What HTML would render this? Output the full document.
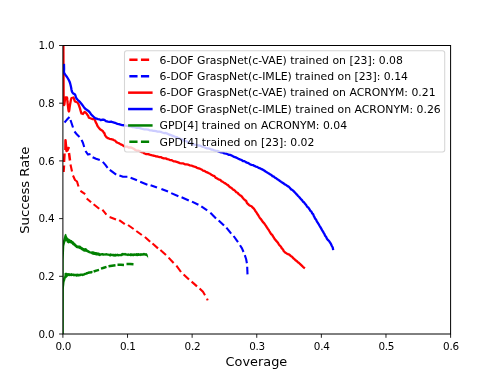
<!DOCTYPE html>
<html><head><meta charset="utf-8"><title>Success Rate vs Coverage</title>
<style>html,body{margin:0;padding:0;background:#fff;width:500px;height:375px;overflow:hidden}</style></head>
<body>
<svg width="500" height="375" viewBox="0 0 500 375" style="display:block;position:absolute;left:0;top:0">
<rect width="500" height="375" fill="#fff"/>
<defs><clipPath id="ax"><rect x="62.90" y="45.50" width="387.70" height="288.50"/></clipPath></defs>
<g clip-path="url(#ax)" fill="none" stroke-width="2.50" stroke-linejoin="round">
<path d="M70.50 164.50 L72.00 171.50" stroke="#f00" stroke-width="2.1"/>
<path d="M73.00 175.50 L75.00 180.00 L77.00 181.50 L78.50 186.50" stroke="#f00" stroke-width="2.1"/>
<path d="M80.40 190.80 L85.20 194.20" stroke="#f00" stroke-width="2.1"/>
<path d="M86.70 198.50 L91.10 202.20" stroke="#f00" stroke-width="2.1"/>
<path d="M93.60 204.20 L99.20 208.70" stroke="#f00" stroke-width="2.1"/>
<path d="M102.40 209.80 L104.00 211.60 L106.40 214.60" stroke="#f00" stroke-width="2.1"/>
<path d="M109.60 217.00 L116.00 219.40" stroke="#f00" stroke-width="2.1"/>
<path d="M119.20 220.20 L124.80 224.20" stroke="#f00" stroke-width="2.1"/>
<path d="M128.00 225.00 L133.60 229.00" stroke="#f00" stroke-width="2.1"/>
<path d="M136.30 231.00 L141.80 235.00" stroke="#f00" stroke-width="2.1"/>
<path d="M144.90 237.00 L150.20 241.70" stroke="#f00" stroke-width="2.1"/>
<path d="M152.50 243.50 L158.00 248.40" stroke="#f00" stroke-width="2.1"/>
<path d="M160.40 250.00 L166.00 255.00" stroke="#f00" stroke-width="2.1"/>
<path d="M168.60 257.60 L173.60 263.00" stroke="#f00" stroke-width="2.1"/>
<path d="M176.40 265.60 L181.00 272.00" stroke="#f00" stroke-width="2.1"/>
<path d="M183.60 274.40 L189.00 279.60" stroke="#f00" stroke-width="2.1"/>
<path d="M191.60 281.60 L197.00 286.40" stroke="#f00" stroke-width="2.1"/>
<path d="M199.60 288.40 L203.00 291.80 L205.00 295.20" stroke="#f00" stroke-width="2.1"/>
<path d="M207.00 298.60 L207.70 300.40" stroke="#f00" stroke-width="2.1"/>
<path d="M64.50 122.50 L67.00 119.60 L69.50 117.00" stroke="#00f" stroke-width="2.1"/>
<path d="M70.50 120.00 L73.00 127.50" stroke="#00f" stroke-width="2.1"/>
<path d="M74.50 131.50 L77.00 134.60 L79.50 137.00" stroke="#00f" stroke-width="2.1"/>
<path d="M81.60 139.80 L83.00 143.00 L84.20 147.00" stroke="#00f" stroke-width="2.1"/>
<path d="M85.50 151.00 L88.00 154.60 L90.50 154.00" stroke="#00f" stroke-width="2.1"/>
<path d="M92.60 157.20 L96.00 158.80 L99.80 160.10" stroke="#00f" stroke-width="2.1"/>
<path d="M102.80 161.90 L105.20 164.60 L107.60 167.80" stroke="#00f" stroke-width="2.1"/>
<path d="M109.80 169.80 L116.20 174.60" stroke="#00f" stroke-width="2.1"/>
<path d="M119.40 175.60 L123.00 176.80 L127.40 176.80" stroke="#00f" stroke-width="2.1"/>
<path d="M130.60 177.80 L137.00 180.20" stroke="#00f" stroke-width="2.1"/>
<path d="M140.20 181.80 L147.40 184.70" stroke="#00f" stroke-width="2.1"/>
<path d="M150.60 185.20 L157.00 187.60" stroke="#00f" stroke-width="2.1"/>
<path d="M161.40 188.90 L168.00 191.50" stroke="#00f" stroke-width="2.1"/>
<path d="M171.20 193.10 L178.40 196.30" stroke="#00f" stroke-width="2.1"/>
<path d="M181.60 197.30 L188.80 200.50" stroke="#00f" stroke-width="2.1"/>
<path d="M192.00 201.60 L198.40 204.80" stroke="#00f" stroke-width="2.1"/>
<path d="M201.30 206.40 L207.20 210.40" stroke="#00f" stroke-width="2.1"/>
<path d="M210.40 212.80 L216.00 218.40" stroke="#00f" stroke-width="2.1"/>
<path d="M218.70 220.40 L224.00 225.60" stroke="#00f" stroke-width="2.1"/>
<path d="M226.40 227.60 L231.20 233.60" stroke="#00f" stroke-width="2.1"/>
<path d="M233.60 236.00 L238.00 242.20" stroke="#00f" stroke-width="2.1"/>
<path d="M240.00 245.30 L242.00 248.40 L243.50 252.00" stroke="#00f" stroke-width="2.1"/>
<path d="M244.80 255.20 L246.10 259.00 L246.90 263.20" stroke="#00f" stroke-width="2.1"/>
<path d="M247.20 266.70 L247.50 274.40" stroke="#00f" stroke-width="2.1"/>
<path d="M63.40 45.00 L63.40 45.91 L63.41 46.96 L63.41 48.13 L63.42 49.41 L63.42 50.80 L63.43 52.28 L63.43 53.84 L63.44 55.48 L63.44 57.17 L63.45 58.93 L63.46 60.72 L63.46 62.55 L63.47 64.40 L63.48 66.27 L63.49 68.14 L63.50 70.00 L63.51 71.59 L63.52 73.24 L63.52 74.94 L63.53 76.66 L63.54 78.42 L63.55 80.19 L63.55 81.96 L63.56 83.73 L63.57 85.48 L63.58 87.21 L63.59 88.90 L63.60 90.55 L63.61 92.15 L63.62 93.68 L63.63 95.13 L63.65 96.50 L63.66 97.77 L63.68 98.94 L63.70 100.00 L63.84 104.06 L64.01 105.02 L64.20 105.00 L64.39 104.34 L64.58 102.68 L64.80 101.00 L65.09 98.98 L65.50 97.50 L67.00 97.50 L67.22 98.47 L67.31 99.89 L67.50 102.00 L67.68 103.54 L67.88 105.46 L68.10 107.49 L68.33 109.36 L68.57 110.78 L68.80 111.50 L69.11 111.05 L69.39 109.36 L69.67 107.12 L70.00 105.00 L70.35 103.07 L70.70 101.09 L71.07 99.32 L71.50 98.00 L73.50 97.50 L74.01 98.62 L74.43 100.20 L75.00 101.50 L76.22 101.97 L77.50 102.50 L78.22 103.67 L78.84 105.17 L79.50 107.00 L80.03 108.67 L80.53 110.52 L81.02 112.23 L81.50 113.50 L83.00 114.00 L83.68 112.90 L84.50 112.00 L85.72 112.63 L86.90 114.03 L87.63 115.23 L88.31 116.08 L88.82 117.76 L90.37 118.25 L92.19 118.98 L93.45 119.03 L94.55 119.23 L95.29 121.05 L95.89 122.62 L96.57 123.67 L97.35 125.74 L97.92 126.64 L99.04 128.05 L100.08 129.29 L101.58 130.19 L102.96 131.23 L103.76 132.59 L104.55 133.38 L104.86 134.78 L105.85 136.39 L106.55 137.35 L107.94 138.15 L109.54 138.76 L111.12 139.10 L112.87 139.53 L114.01 140.25 L115.05 140.51 L116.34 142.10 L117.75 142.75 L119.17 143.35 L120.71 144.43 L122.11 144.81 L124.13 146.27 L125.39 146.67 L127.07 146.62 L128.61 147.51 L130.45 147.41 L132.04 147.95 L133.74 148.81 L135.38 149.96 L136.77 150.65 L138.27 150.63 L140.04 151.24 L141.55 152.13 L143.27 152.47 L144.60 153.51 L146.27 154.06 L148.15 154.11 L149.65 154.67 L151.29 155.12 L152.79 155.51 L154.51 155.79 L155.97 156.37 L157.56 156.48 L159.41 157.05 L160.79 157.07 L162.31 157.92 L163.82 158.39 L165.71 158.41 L167.28 159.14 L168.84 159.47 L170.42 160.20 L171.82 160.17 L173.69 161.35 L175.03 161.46 L176.65 161.85 L178.15 162.34 L179.95 163.07 L181.54 163.32 L183.34 163.41 L184.89 164.30 L186.46 164.28 L188.35 164.71 L189.88 165.35 L191.57 165.56 L192.86 166.19 L194.44 166.74 L195.82 167.02 L197.01 167.91 L198.65 168.33 L199.90 168.71 L201.51 169.43 L203.04 170.58 L204.19 170.83 L205.80 171.80 L207.19 172.30 L208.36 173.02 L210.11 173.83 L211.44 174.77 L212.90 175.58 L214.47 176.19 L215.50 177.62 L217.22 178.50 L218.48 179.38 L220.16 179.79 L221.45 181.15 L222.79 181.84 L224.00 182.65 L225.30 183.37 L226.71 184.45 L228.00 185.13 L229.15 186.43 L230.16 187.30 L231.91 188.32 L232.54 189.17 L233.88 189.85 L235.19 190.92 L236.29 192.20 L237.59 192.76 L238.69 194.20 L239.99 195.21 L241.36 196.08 L242.72 197.81 L243.76 199.01 L245.16 200.23 L246.18 201.02 L246.87 202.88 L247.83 203.83 L248.95 204.92 L250.16 205.71 L251.53 206.24 L252.53 207.38 L253.86 208.67 L255.08 210.40 L255.60 211.35 L256.52 212.50 L257.36 214.08 L258.28 215.21 L258.98 216.54 L259.86 218.04 L261.13 219.35 L261.88 220.51 L262.95 222.08 L264.07 223.15 L265.07 224.65 L265.97 225.90 L266.90 227.46 L267.73 228.73 L268.57 229.67 L269.43 231.28 L270.08 232.36 L271.07 233.99 L272.17 234.90 L273.20 236.68 L273.95 237.77 L274.86 239.31 L276.03 240.62 L277.07 241.75 L278.09 243.05 L278.87 244.48 L279.77 245.52 L280.97 246.79 L281.65 248.14 L282.98 249.49 L283.82 251.26 L285.12 252.42 L286.62 253.41 L288.04 254.13 L289.32 254.61 L290.68 255.93 L292.08 256.70 L293.33 258.35 L294.30 258.94 L295.70 260.39 L296.75 260.94 L297.88 262.28 L299.12 263.05 L299.95 263.92 L301.78 265.58 L302.96 266.80 L304.00 267.60" stroke="#f00" stroke-width="2.3" stroke-linecap="square"/>
<path d="M64.00 65.00 L64.03 66.04 L64.06 67.48 L64.10 69.00 L64.03 70.36 L63.95 71.64 L64.20 73.00 L64.95 74.34 L65.97 75.60 L67.00 77.00 L67.92 78.49 L68.76 79.95 L69.50 81.50 L70.05 83.01 L70.43 84.43 L70.80 86.00 L71.16 87.77 L71.46 89.51 L71.80 91.00 L72.33 92.35 L73.00 93.20 L75.00 94.50 L75.51 95.70 L75.93 97.15 L76.50 98.50 L77.65 99.78 L79.00 101.00 L79.98 102.09 L80.96 103.23 L82.00 104.50 L82.98 105.86 L83.90 107.20 L85.00 108.50 L86.32 109.56 L87.68 110.44 L89.00 111.50 L90.10 112.84 L91.02 114.22 L92.14 115.45 L93.57 116.75 L95.06 118.15 L96.55 118.61 L98.00 119.09 L99.65 119.39 L100.88 120.15 L102.41 119.73 L103.48 119.63 L104.69 120.03 L105.91 121.05 L107.94 121.54 L109.47 121.78 L111.14 121.62 L112.55 122.23 L114.08 122.62 L115.92 123.21 L117.43 123.81 L118.88 124.14 L120.55 124.71 L122.18 125.16 L123.99 125.26 L125.65 125.73 L127.33 125.86 L128.76 126.24 L130.45 126.33 L132.07 126.98 L133.65 126.85 L135.15 127.43 L136.82 127.86 L138.44 127.73 L139.91 128.06 L141.57 128.65 L143.34 129.09 L144.70 129.38 L146.28 129.43 L148.07 129.55 L149.54 130.30 L151.17 130.28 L152.79 130.73 L154.19 130.80 L155.98 131.19 L157.57 131.55 L159.37 131.71 L160.78 131.84 L162.27 132.49 L163.88 133.03 L165.78 133.02 L167.36 133.66 L168.85 134.39 L170.28 134.89 L172.05 135.58 L173.56 136.19 L175.27 136.77 L176.62 137.09 L178.20 137.94 L180.07 138.91 L181.41 139.20 L182.81 140.08 L184.07 140.85 L185.62 141.01 L187.14 141.62 L188.43 142.56 L190.03 143.03 L191.54 143.49 L192.87 143.78 L194.18 144.51 L195.76 144.80 L197.14 145.08 L198.43 145.49 L200.11 145.73 L201.50 146.30 L203.01 146.79 L204.26 147.24 L205.70 147.87 L207.03 148.33 L208.39 148.41 L209.88 148.77 L211.58 149.59 L212.83 149.69 L214.29 150.44 L215.78 150.86 L217.10 150.91 L218.47 151.37 L220.01 152.04 L221.41 152.29 L223.01 152.55 L224.40 153.45 L225.82 153.53 L227.09 154.06 L228.54 154.76 L230.06 154.88 L231.61 155.57 L232.96 156.31 L234.16 156.94 L235.73 157.40 L237.08 158.03 L238.41 158.73 L239.86 159.40 L241.54 160.05 L242.95 161.01 L244.43 161.16 L245.77 162.09 L246.94 162.58 L248.42 163.07 L250.01 164.26 L251.45 164.88 L252.99 165.04 L254.42 165.89 L255.81 166.54 L257.14 166.91 L258.59 167.92 L260.11 168.36 L261.58 169.17 L262.81 169.68 L264.19 170.55 L265.58 171.53 L267.13 172.39 L268.48 173.34 L269.94 174.18 L271.39 175.00 L272.48 176.16 L273.86 176.69 L274.96 177.65 L276.23 178.34 L277.28 179.21 L278.77 180.07 L279.99 181.02 L281.24 181.90 L282.60 182.74 L283.75 183.51 L285.04 184.53 L286.23 185.05 L287.56 186.11 L288.85 186.78 L289.97 187.94 L291.17 189.40 L292.41 189.97 L293.59 191.10 L294.70 192.31 L295.61 193.27 L296.89 194.60 L298.09 195.98 L299.19 197.01 L300.01 198.09 L301.18 199.40 L302.02 200.16 L303.10 201.79 L304.04 202.33 L304.86 203.54 L305.90 204.72 L307.01 206.51 L308.37 207.66 L309.46 209.23 L310.43 210.86 L311.43 211.66 L312.13 213.27 L313.13 214.15 L313.94 216.23 L314.45 217.09 L315.05 218.43 L316.13 219.80 L316.82 221.42 L317.68 222.71 L318.60 224.07 L319.37 225.50 L320.39 227.16 L321.12 228.43 L322.07 230.06 L323.01 231.59 L323.72 232.85 L324.47 234.04 L325.12 235.75 L326.05 236.76 L326.94 238.69 L328.14 240.16 L329.27 241.30 L330.27 242.82 L330.95 243.92 L331.87 246.00 L332.74 247.55 L333.00 249.00" stroke="#00f" stroke-width="2.3" stroke-linecap="square"/>
<path d="M61.35 334.00 L61.35 333.19 L61.35 332.38 L61.35 331.57 L61.35 330.76 L61.36 329.95 L61.36 329.14 L61.36 328.33 L61.36 327.52 L61.36 326.71 L61.36 325.90 L61.36 325.10 L61.36 324.29 L61.37 323.48 L61.37 322.67 L61.37 321.86 L61.37 321.05 L61.37 320.24 L61.37 319.43 L61.37 318.62 L61.37 317.81 L61.38 317.00 L61.38 316.19 L61.38 315.38 L61.38 314.57 L61.38 313.76 L61.38 312.95 L61.38 312.14 L61.38 311.33 L61.38 310.52 L61.39 309.71 L61.39 308.90 L61.39 308.10 L61.39 307.29 L61.39 306.48 L61.39 305.67 L61.39 304.86 L61.39 304.05 L61.40 303.24 L61.40 302.43 L61.40 301.62 L61.40 300.81 L61.40 300.00 L61.40 299.20 L61.40 298.40 L61.41 297.60 L61.41 296.80 L61.41 296.00 L61.41 295.20 L61.41 294.40 L61.42 293.60 L61.42 292.80 L61.42 292.00 L61.42 291.20 L61.42 290.40 L61.43 289.60 L61.43 288.80 L61.43 288.00 L61.43 287.20 L61.43 286.40 L61.44 285.60 L61.44 284.80 L61.44 284.00 L61.44 283.20 L61.44 282.40 L61.45 281.60 L61.45 280.80 L61.45 280.00 L61.45 279.20 L61.45 278.40 L61.46 277.60 L61.46 276.80 L61.46 276.00 L61.46 275.20 L61.46 274.40 L61.47 273.60 L61.47 272.80 L61.47 272.00 L61.47 271.20 L61.47 270.40 L61.48 269.60 L61.48 268.80 L61.48 268.00 L61.48 267.20 L61.48 266.40 L61.49 265.60 L61.49 264.80 L61.49 264.00 L61.49 263.20 L61.49 262.40 L61.50 261.60 L61.50 260.80 L61.50 260.00 L61.52 259.18 L61.55 258.35 L61.57 257.53 L61.59 256.71 L61.62 255.88 L61.64 255.06 L61.66 254.24 L61.69 253.41 L61.71 252.59 L61.74 251.76 L61.76 250.94 L61.78 250.12 L61.81 249.29 L61.83 248.47 L61.85 247.65 L61.88 246.82 L61.90 246.00 L62.08 245.17 L62.26 244.33 L62.45 243.50 L62.63 242.67 L62.81 241.83 L62.99 241.00 L64.60 234.65 L64.95 234.54 L65.30 233.98 L66.00 233.84 L66.33 234.47 L66.67 235.66 L67.00 236.60 L68.00 238.16 L68.75 238.53 L69.50 239.08 L71.00 239.93 L71.75 239.92 L72.50 240.93 L73.25 241.36 L74.00 241.99 L74.75 242.89 L75.50 243.62 L76.25 244.24 L77.00 245.26 L78.50 245.44 L80.00 245.47 L80.75 245.98 L81.50 246.67 L82.25 247.04 L83.00 247.81 L84.50 248.30 L86.00 248.04 L87.00 248.90 L88.00 250.00 L89.00 250.13 L90.00 251.20 L91.00 251.50 L92.00 251.15 L93.00 251.31 L94.00 251.62 L95.00 251.97 L96.00 251.99 L97.00 252.29 L98.00 252.59 L99.00 252.62 L100.00 253.30 L101.00 253.35 L102.00 252.96 L103.00 253.09 L104.00 253.40 L105.00 253.22 L106.00 253.16 L106.80 252.99 L107.60 253.55 L108.40 253.44 L109.20 253.73 L110.00 253.46 L110.83 253.29 L111.67 253.74 L112.50 253.81 L113.33 253.68 L114.17 253.82 L115.00 253.90 L115.83 253.50 L116.67 253.93 L117.50 253.59 L118.33 254.07 L119.17 253.81 L120.00 254.16 L121.00 253.43 L122.00 253.05 L123.00 252.81 L124.00 253.20 L125.00 252.85 L126.00 253.26 L127.00 253.38 L128.00 253.43 L128.80 253.35 L129.60 253.65 L130.40 253.28 L131.20 253.12 L132.00 253.63 L132.80 253.25 L133.60 253.40 L134.40 253.35 L135.20 253.60 L136.00 253.25 L136.80 253.05 L137.60 253.19 L138.40 253.07 L139.20 253.33 L140.00 253.48 L140.80 253.08 L141.60 253.14 L142.40 253.23 L143.20 252.88 L144.00 252.73 L145.15 253.18 L146.30 253.11 L147.40 253.97 L147.75 255.22 L148.10 256.35 L148.10 258.83 L147.75 257.47 L147.40 257.10 L146.30 256.00 L145.15 255.77 L144.00 255.51 L143.20 255.76 L142.40 255.80 L141.60 255.81 L140.80 256.25 L140.00 255.73 L139.20 255.98 L138.40 256.06 L137.60 256.31 L136.80 256.01 L136.00 256.33 L135.20 255.73 L134.40 255.94 L133.60 256.34 L132.80 256.33 L132.00 255.89 L131.20 256.33 L130.40 256.19 L129.60 255.98 L128.80 255.82 L128.00 256.16 L127.00 255.70 L126.00 255.75 L125.00 255.49 L124.00 255.38 L123.00 255.52 L122.00 256.28 L121.00 256.29 L120.00 256.34 L119.17 256.30 L118.33 256.54 L117.50 256.16 L116.67 256.30 L115.83 256.68 L115.00 256.42 L114.17 256.66 L113.33 256.40 L112.50 256.30 L111.67 256.05 L110.83 256.50 L110.00 256.53 L109.20 256.25 L108.40 255.64 L107.60 255.67 L106.80 255.53 L106.00 255.72 L105.00 255.55 L104.00 255.82 L103.00 255.80 L102.00 255.61 L101.00 255.52 L100.00 256.15 L99.00 255.99 L98.00 255.48 L97.00 255.39 L96.00 255.45 L95.00 254.88 L94.00 255.00 L93.00 254.87 L92.00 254.51 L91.00 253.87 L90.00 253.56 L89.00 253.21 L88.00 252.70 L87.00 252.37 L86.00 251.75 L84.50 251.64 L83.00 251.29 L82.25 250.50 L81.50 250.27 L80.75 249.59 L80.00 249.37 L78.50 248.53 L77.00 248.32 L76.25 247.94 L75.50 247.20 L74.75 246.63 L74.00 245.68 L73.25 245.43 L72.50 244.93 L71.75 243.88 L71.00 243.41 L69.50 243.08 L68.75 243.40 L68.00 243.30 L67.00 242.44 L66.67 242.19 L66.33 240.99 L66.00 240.90 L65.30 241.88 L64.95 243.35 L64.60 244.03 L65.59 241.00 L65.38 241.83 L65.16 242.67 L64.95 243.50 L64.73 244.33 L64.52 245.17 L64.30 246.00 L64.26 246.82 L64.23 247.65 L64.19 248.47 L64.16 249.29 L64.12 250.12 L64.09 250.94 L64.05 251.76 L64.02 252.59 L63.98 253.41 L63.95 254.24 L63.91 255.06 L63.88 255.88 L63.84 256.71 L63.81 257.53 L63.77 258.35 L63.74 259.18 L63.70 260.00 L63.70 260.80 L63.70 261.60 L63.69 262.40 L63.69 263.20 L63.69 264.00 L63.69 264.80 L63.69 265.60 L63.68 266.40 L63.68 267.20 L63.68 268.00 L63.68 268.80 L63.68 269.60 L63.67 270.40 L63.67 271.20 L63.67 272.00 L63.67 272.80 L63.67 273.60 L63.66 274.40 L63.66 275.20 L63.66 276.00 L63.66 276.80 L63.66 277.60 L63.65 278.40 L63.65 279.20 L63.65 280.00 L63.65 280.80 L63.65 281.60 L63.64 282.40 L63.64 283.20 L63.64 284.00 L63.64 284.80 L63.64 285.60 L63.63 286.40 L63.63 287.20 L63.63 288.00 L63.63 288.80 L63.63 289.60 L63.62 290.40 L63.62 291.20 L63.62 292.00 L63.62 292.80 L63.62 293.60 L63.61 294.40 L63.61 295.20 L63.61 296.00 L63.61 296.80 L63.61 297.60 L63.60 298.40 L63.60 299.20 L63.60 300.00 L63.60 300.81 L63.60 301.62 L63.60 302.43 L63.60 303.24 L63.59 304.05 L63.59 304.86 L63.59 305.67 L63.59 306.48 L63.59 307.29 L63.59 308.10 L63.59 308.90 L63.59 309.71 L63.58 310.52 L63.58 311.33 L63.58 312.14 L63.58 312.95 L63.58 313.76 L63.58 314.57 L63.58 315.38 L63.58 316.19 L63.58 317.00 L63.57 317.81 L63.57 318.62 L63.57 319.43 L63.57 320.24 L63.57 321.05 L63.57 321.86 L63.57 322.67 L63.57 323.48 L63.56 324.29 L63.56 325.10 L63.56 325.90 L63.56 326.71 L63.56 327.52 L63.56 328.33 L63.56 329.14 L63.56 329.95 L63.55 330.76 L63.55 331.57 L63.55 332.38 L63.55 333.19 L63.55 334.00Z" fill="#008000" stroke="none"/>
<path d="M61.35 334.00 L61.35 333.20 L61.35 332.40 L61.36 331.60 L61.36 330.80 L61.36 330.00 L61.36 329.20 L61.36 328.40 L61.36 327.60 L61.37 326.80 L61.37 326.00 L61.37 325.20 L61.37 324.40 L61.37 323.60 L61.37 322.80 L61.38 322.00 L61.38 321.20 L61.38 320.40 L61.38 319.60 L61.38 318.80 L61.38 318.00 L61.38 317.20 L61.39 316.40 L61.39 315.60 L61.39 314.80 L61.39 314.00 L61.39 313.20 L61.39 312.40 L61.40 311.60 L61.40 310.80 L61.40 310.00 L61.40 309.20 L61.41 308.40 L61.41 307.60 L61.42 306.80 L61.42 306.00 L61.42 305.20 L61.43 304.40 L61.43 303.60 L61.44 302.80 L61.44 302.00 L61.44 301.20 L61.45 300.40 L61.45 299.60 L61.46 298.80 L61.46 298.00 L61.46 297.20 L61.47 296.40 L61.47 295.60 L61.48 294.80 L61.48 294.00 L61.48 293.20 L61.49 292.40 L61.49 291.60 L61.50 290.80 L61.50 290.00 L61.55 289.20 L61.60 288.40 L61.65 287.60 L61.70 286.80 L61.75 286.00 L61.80 285.20 L61.85 284.40 L61.90 283.60 L61.95 282.80 L62.00 282.00 L62.30 281.00 L62.59 280.00 L62.89 279.00 L64.39 275.97 L64.50 274.23 L64.60 272.90 L65.50 272.86 L66.50 272.80 L68.00 273.23 L68.83 273.09 L69.67 273.36 L70.50 273.39 L71.33 273.11 L72.17 273.46 L73.00 273.51 L73.83 273.62 L74.67 273.81 L75.50 273.85 L76.33 273.72 L77.17 273.60 L78.00 273.64 L78.83 273.83 L79.67 273.85 L80.50 273.56 L81.33 273.41 L82.17 273.45 L83.00 273.38 L83.83 273.13 L84.67 272.65 L85.50 272.68 L86.33 272.10 L87.17 272.12 L88.00 271.51 L89.00 271.22 L90.00 271.26 L91.00 270.96 L92.50 270.76 L92.50 272.97 L91.00 273.74 L90.00 273.60 L89.00 274.07 L88.00 274.07 L87.17 274.73 L86.33 274.67 L85.50 274.88 L84.67 275.41 L83.83 275.81 L83.00 276.00 L82.17 276.18 L81.33 275.87 L80.50 276.13 L79.67 276.25 L78.83 276.71 L78.00 276.35 L77.17 276.63 L76.33 276.65 L75.50 276.29 L74.67 276.26 L73.83 276.54 L73.00 276.02 L72.17 276.11 L71.33 276.36 L70.50 275.99 L69.67 276.33 L68.83 276.07 L68.00 276.15 L66.50 277.63 L65.50 278.81 L64.60 280.38 L64.50 280.54 L64.39 280.26 L65.69 279.00 L65.33 280.00 L64.96 281.00 L64.60 282.00 L64.51 282.80 L64.42 283.60 L64.33 284.40 L64.24 285.20 L64.15 286.00 L64.06 286.80 L63.97 287.60 L63.88 288.40 L63.79 289.20 L63.70 290.00 L63.70 290.80 L63.69 291.60 L63.69 292.40 L63.68 293.20 L63.68 294.00 L63.68 294.80 L63.67 295.60 L63.67 296.40 L63.66 297.20 L63.66 298.00 L63.66 298.80 L63.65 299.60 L63.65 300.40 L63.64 301.20 L63.64 302.00 L63.64 302.80 L63.63 303.60 L63.63 304.40 L63.62 305.20 L63.62 306.00 L63.62 306.80 L63.61 307.60 L63.61 308.40 L63.60 309.20 L63.60 310.00 L63.60 310.80 L63.60 311.60 L63.59 312.40 L63.59 313.20 L63.59 314.00 L63.59 314.80 L63.59 315.60 L63.59 316.40 L63.59 317.20 L63.58 318.00 L63.58 318.80 L63.58 319.60 L63.58 320.40 L63.58 321.20 L63.58 322.00 L63.57 322.80 L63.57 323.60 L63.57 324.40 L63.57 325.20 L63.57 326.00 L63.57 326.80 L63.56 327.60 L63.56 328.40 L63.56 329.20 L63.56 330.00 L63.56 330.80 L63.56 331.60 L63.55 332.40 L63.55 333.20 L63.55 334.00Z" fill="#008000" stroke="none"/>
<path d="M93.60 271.50 L96.30 270.60 L99.00 269.90" stroke="#008000" stroke-width="2.5"/>
<path d="M101.00 268.60 L103.80 267.70 L106.50 266.90" stroke="#008000" stroke-width="2.5"/>
<path d="M108.50 266.30 L112.00 265.70 L115.50 265.20" stroke="#008000" stroke-width="2.5"/>
<path d="M117.50 264.80 L121.00 264.80 L124.00 265.00" stroke="#008000" stroke-width="2.5"/>
<path d="M126.50 264.10 L130.00 264.10 L133.50 264.30" stroke="#008000" stroke-width="2.5"/>
<path d="M63.50 172.00 L64.00 165.50" stroke="#f00"/>
<path d="M64.00 162.00 L64.50 153.50" stroke="#f00"/>
<path d="M65.40 150.00 L65.50 140.30 L66.50 151.00 L67.40 150.40 L69.00 147.00" stroke="#f00"/>
<path d="M69.00 153.00 L70.00 160.50" stroke="#f00"/>
</g>
<rect x="62.90" y="45.50" width="387.70" height="288.50" fill="none" stroke="#000" stroke-width="1.000"/>
<g stroke="#000" stroke-width="0.868">
<line x1="62.90" y1="334.00" x2="62.90" y2="337.80"/>
<line x1="127.52" y1="334.00" x2="127.52" y2="337.80"/>
<line x1="192.13" y1="334.00" x2="192.13" y2="337.80"/>
<line x1="256.75" y1="334.00" x2="256.75" y2="337.80"/>
<line x1="321.37" y1="334.00" x2="321.37" y2="337.80"/>
<line x1="385.98" y1="334.00" x2="385.98" y2="337.80"/>
<line x1="450.60" y1="334.00" x2="450.60" y2="337.80"/>
<line x1="59.10" y1="334.00" x2="62.90" y2="334.00"/>
<line x1="59.10" y1="276.30" x2="62.90" y2="276.30"/>
<line x1="59.10" y1="218.60" x2="62.90" y2="218.60"/>
<line x1="59.10" y1="160.90" x2="62.90" y2="160.90"/>
<line x1="59.10" y1="103.20" x2="62.90" y2="103.20"/>
<line x1="59.10" y1="45.50" x2="62.90" y2="45.50"/>
</g>
<g font-family="'DejaVu Sans', 'Liberation Sans', sans-serif" fill="#000">
<g font-size="10.40" text-anchor="middle" letter-spacing="-0.3">
<text x="63.20" y="349.84">0.0</text>
<text x="127.82" y="349.84">0.1</text>
<text x="192.43" y="349.84">0.2</text>
<text x="257.05" y="349.84">0.3</text>
<text x="321.67" y="349.84">0.4</text>
<text x="386.28" y="349.84">0.5</text>
<text x="450.90" y="349.84">0.6</text>
</g>
<g font-size="10.40" text-anchor="end" letter-spacing="-0.3">
<text x="54.20" y="337.82">0.0</text>
<text x="54.20" y="280.12">0.2</text>
<text x="54.20" y="222.42">0.4</text>
<text x="54.20" y="164.72">0.6</text>
<text x="54.20" y="107.02">0.8</text>
<text x="54.20" y="49.32">1.0</text>
</g>
<text x="256.45" y="366.10" font-size="12.89" text-anchor="middle">Coverage</text>
<text transform="translate(28.80 190.15) rotate(-90)" font-size="13.15" text-anchor="middle">Success Rate</text>
<rect x="124.50" y="50.70" width="320.20" height="101.30" rx="2.2" ry="2.2" fill="#fff" fill-opacity="0.8" stroke="#ccc" stroke-opacity="0.8" stroke-width="1.085"/>
<line x1="129.34" y1="59.85" x2="151.34" y2="59.85" stroke="#f00" stroke-width="2.50" stroke-dasharray="8.2 3.4"/>
<text x="159.62" y="63.65" font-size="10.85">6-DOF GraspNet(c-VAE) trained on [23]: 0.08</text>
<line x1="129.34" y1="76.25" x2="151.34" y2="76.25" stroke="#00f" stroke-width="2.50" stroke-dasharray="8.2 3.4"/>
<text x="159.62" y="80.05" font-size="10.85">6-DOF GraspNet(c-IMLE) trained on [23]: 0.14</text>
<line x1="129.34" y1="92.65" x2="151.34" y2="92.65" stroke="#f00" stroke-width="2.50" stroke-linecap="square"/>
<text x="159.62" y="96.45" font-size="10.85">6-DOF GraspNet(c-VAE) trained on ACRONYM: 0.21</text>
<line x1="129.34" y1="109.05" x2="151.34" y2="109.05" stroke="#00f" stroke-width="2.50" stroke-linecap="square"/>
<text x="159.62" y="112.85" font-size="10.85">6-DOF GraspNet(c-IMLE) trained on ACRONYM: 0.26</text>
<line x1="129.34" y1="125.45" x2="151.34" y2="125.45" stroke="#008000" stroke-width="2.50" stroke-linecap="square"/>
<text x="159.62" y="129.25" font-size="10.85">GPD[4] trained on ACRONYM: 0.04</text>
<line x1="129.34" y1="141.85" x2="151.34" y2="141.85" stroke="#008000" stroke-width="2.50" stroke-dasharray="8.2 3.4"/>
<text x="159.62" y="145.65" font-size="10.85">GPD[4] trained on [23]: 0.02</text>
</g>
</svg>
</body></html>
